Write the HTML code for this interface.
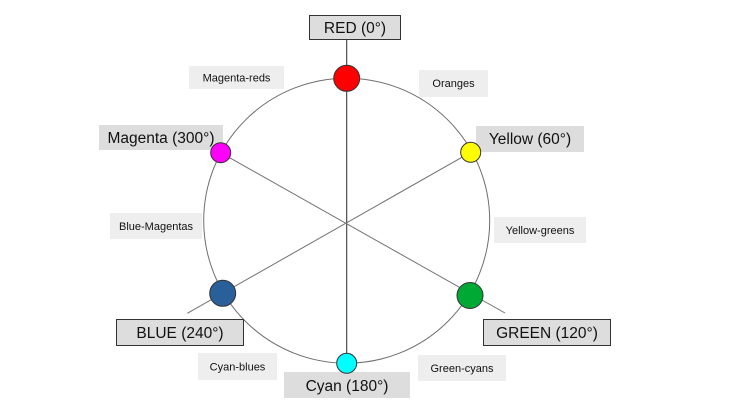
<!DOCTYPE html>
<html><head><meta charset="utf-8"><style>
html,body{margin:0;padding:0;background:#fff;}
svg{display:block;}
text{font-family:"Liberation Sans",sans-serif;fill:#111;}
</style></head><body>
<svg width="730" height="407" viewBox="0 0 730 407" xmlns="http://www.w3.org/2000/svg">
<rect width="730" height="407" fill="#fff"/>
<!-- main circle -->
<ellipse cx="346.7" cy="220.7" rx="143" ry="142.5" fill="none" stroke="#6e6e6e" stroke-width="1"/>
<!-- spokes -->
<line x1="346.7" y1="39" x2="346.7" y2="363" stroke="#3c3c3c" stroke-width="1.1"/>
<line x1="220.7" y1="152.7" x2="505" y2="313" stroke="#707070" stroke-width="1"/>
<line x1="470.7" y1="152.3" x2="187.3" y2="313.3" stroke="#707070" stroke-width="1"/>
<!-- small labels -->
<rect x="189" y="66" width="95" height="23" fill="#eeeeee"/>
<text x="236.5" y="81.5" font-size="11" text-anchor="middle">Magenta-reds</text>
<rect x="419" y="70" width="69" height="27" fill="#eeeeee"/>
<text x="453.5" y="87" font-size="11" text-anchor="middle">Oranges</text>
<rect x="110" y="213" width="92" height="26" fill="#eeeeee"/>
<text x="156" y="230" font-size="11" text-anchor="middle">Blue-Magentas</text>
<rect x="494" y="217" width="92" height="26" fill="#eeeeee"/>
<text x="540" y="234" font-size="11" text-anchor="middle">Yellow-greens</text>
<rect x="198" y="353" width="79" height="27" fill="#eeeeee"/>
<text x="237.5" y="370.5" font-size="11" text-anchor="middle">Cyan-blues</text>
<rect x="418" y="355" width="88" height="26" fill="#eeeeee"/>
<text x="462" y="372" font-size="11" text-anchor="middle">Green-cyans</text>
<!-- big labels -->
<rect x="309.5" y="15.5" width="91" height="24" fill="#dddddd" stroke="#333" stroke-width="1"/>
<text x="355" y="33" font-size="15.5" text-anchor="middle">RED (0°)</text>
<rect x="99" y="125" width="124" height="25" fill="#dddddd"/>
<text x="161" y="143" font-size="15.5" text-anchor="middle">Magenta (300°)</text>
<rect x="476" y="126" width="108" height="26" fill="#dddddd"/>
<text x="530" y="144" font-size="15.5" text-anchor="middle">Yellow (60°)</text>
<rect x="116.5" y="319.5" width="127" height="26" fill="#dddddd" stroke="#333" stroke-width="1"/>
<text x="180" y="338" font-size="15.5" text-anchor="middle">BLUE (240°)</text>
<rect x="483.5" y="319.5" width="127" height="26" fill="#dddddd" stroke="#333" stroke-width="1"/>
<text x="547" y="338" font-size="15.5" text-anchor="middle">GREEN (120°)</text>
<rect x="284" y="372" width="126" height="26" fill="#dddddd"/>
<text x="347" y="391" font-size="15.5" text-anchor="middle">Cyan (180°)</text>
<!-- nodes -->
<circle cx="346.7" cy="78.3" r="13" fill="#ff0000" stroke="#333" stroke-width="1"/>
<circle cx="470.7" cy="152.3" r="10" fill="#ffff00" stroke="#333" stroke-width="1"/>
<circle cx="220.7" cy="152.7" r="10" fill="#ff00ff" stroke="#333" stroke-width="1"/>
<circle cx="222.7" cy="293.3" r="13" fill="#2a6099" stroke="#333" stroke-width="1"/>
<circle cx="470" cy="295.5" r="13" fill="#00a933" stroke="#333" stroke-width="1"/>
<circle cx="346.7" cy="363.3" r="10" fill="#00ffff" stroke="#333" stroke-width="1"/>
</svg>
</body></html>
